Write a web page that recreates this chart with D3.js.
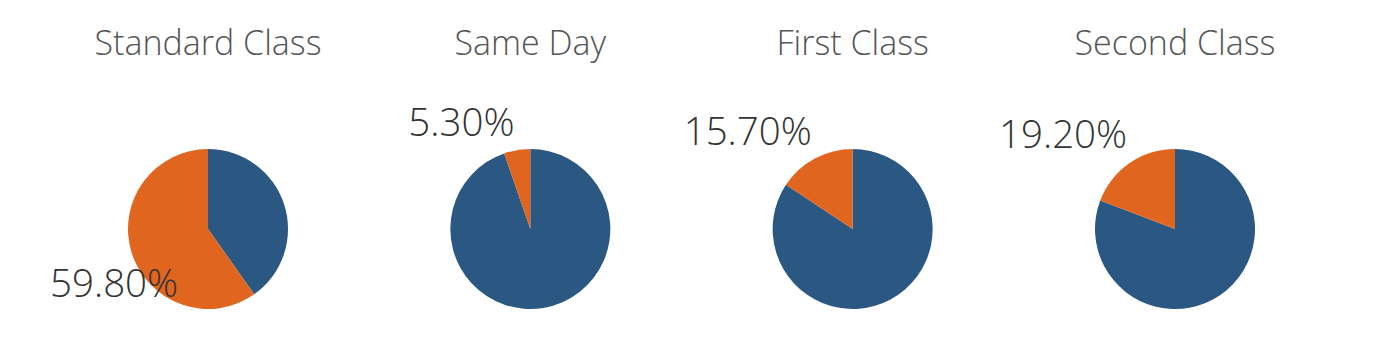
<!DOCTYPE html>
<html>
<head>
<meta charset="utf-8">
<script src="https://cdn.jsdelivr.net/npm/d3@7"></script>
<style>
  html, body { margin: 0; padding: 0; background: #fff; }
  svg { display: block; }
</style>
</head>
<body>
<svg id="chart" width="1382" height="346"></svg>
<script>
// Data
const categories = ["Standard Class", "Same Day", "First Class", "Second Class"];
const shareValues = [59.8, 5.3, 15.7, 19.2];          // orange share (%)
const shareLabels = ["59.80%", "5.30%", "15.70%", "19.20%"];
const segments = ["Other", "Share"];

const width = 1382, height = 346;
const svg = d3.select("#chart");

const x = d3.scalePoint().domain(categories).range([208, 1175]);
const color = d3.scaleOrdinal().domain(segments).range(["#2b5783", "#e0651f"]);
const radius = 80;
const cy = 229;

const pie = d3.pie().sort(null).value(d => d.v);
const arc = d3.arc().innerRadius(0).outerRadius(radius);

// label offsets relative to pie centre (left x, baseline y)
const labelOffsets = [[-158, 68], [-122, -93], [-169, -84], [-176, -81]];

categories.forEach((cat, i) => {
  const g = svg.append("g").attr("transform", `translate(${x(cat)},${cy})`);
  const data = [{k: "Other", v: 100 - shareValues[i]}, {k: "Share", v: shareValues[i]}];
  g.selectAll("path").data(pie(data)).join("path")
    .attr("d", arc)
    .attr("fill", d => color(d.data.k));

  svg.append("text")
    .attr("x", x(cat)).attr("y", 55)
    .attr("text-anchor", "middle")
    .attr("font-family", "Open Sans, sans-serif")
    .attr("font-weight", 300)
    .attr("font-size", 34)
    .attr("fill", "#555")
    .text(cat);

  const off = labelOffsets[i];
  svg.append("text")
    .attr("x", x(cat) + off[0]).attr("y", cy + off[1])
    .attr("font-family", "Open Sans, sans-serif")
    .attr("font-weight", 300)
    .attr("font-size", 38.5)
    .attr("fill", "#333")
    .text(shareLabels[i]);
});
</script>
</body>
</html>
